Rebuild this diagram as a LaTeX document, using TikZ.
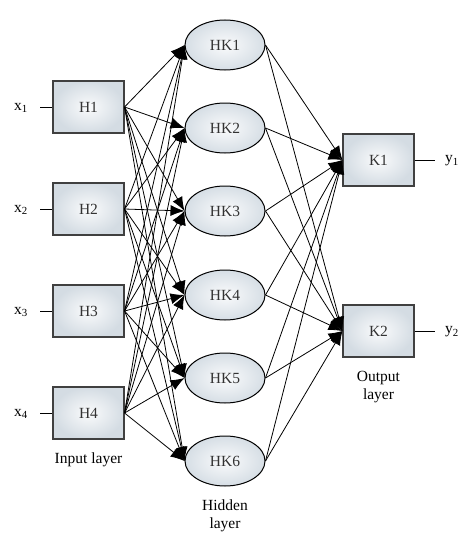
\documentclass[tikz,border=0pt]{standalone}
\usepackage{fontspec}
\setmainfont{Liberation Serif}
\usetikzlibrary{shapes.geometric,arrows.meta}
\begin{document}
\begin{tikzpicture}[x=1pt, y=-1pt, font=\fontsize{15.5}{17.5}\selectfont,
    unitbox/.style={draw=black!75, line width=1.1pt, rectangle, minimum width=71pt, minimum height=52pt, inner sep=0pt,
        text=black!80, shading=radial, inner color={rgb,255:red,250;green,251;blue,252}, outer color={rgb,255:red,212;green,220;blue,227}},
    hiddenunit/.style={draw=black, line width=1pt, ellipse, minimum width=80pt, minimum height=50pt, inner sep=0pt,
        text=black!80, shading=radial, inner color={rgb,255:red,250;green,251;blue,252}, outer color={rgb,255:red,214;green,222;blue,229}},
    link/.style={line width=0.8pt, -{Latex[length=14pt,width=11pt]}}]
        \path[use as bounding box] (0,0) rectangle (474,551);
        % input layer
        \node[unitbox] (h1) at (88.5,107) {H1};
        \node[unitbox] (h2) at (88.5,209) {H2};
        \node[unitbox] (h3) at (88.5,311) {H3};
        \node[unitbox] (h4) at (88.5,413) {H4};
        \node (x1) at (21,108) {x\textsubscript{1}};
        \node (x2) at (21,210) {x\textsubscript{2}};
        \node (x3) at (21,312) {x\textsubscript{3}};
        \node (x4) at (21,414) {x\textsubscript{4}};
        \coordinate (x1e) at (40,107);
        \coordinate (x2e) at (40,209);
        \coordinate (x3e) at (40,311);
        \coordinate (x4e) at (40,413);
        \draw[line width=0.8pt] (x1e) -- (h1);
        \draw[line width=0.8pt] (x2e) -- (h2);
        \draw[line width=0.8pt] (x3e) -- (h3);
        \draw[line width=0.8pt] (x4e) -- (h4);
        \node (inlabel) at (88.5,460) {Input layer};
        % hidden layer
        \node[hiddenunit] (hk1) at (225,45) {HK1};
        \node[hiddenunit] (hk2) at (225,128) {HK2};
        \node[hiddenunit] (hk3) at (225,211) {HK3};
        \node[hiddenunit] (hk4) at (225,295) {HK4};
        \node[hiddenunit] (hk5) at (225,378) {HK5};
        \node[hiddenunit] (hk6) at (225,461) {HK6};
        \node[align=center] (hidlabel) at (225,516) {Hidden\\layer};
        % output layer
        \node[unitbox] (k1) at (378.5,160) {K1};
        \node[unitbox] (k2) at (378.5,331) {K2};
        \coordinate (y1s) at (435,160);
        \coordinate (y2s) at (435,331);
        \draw[line width=0.8pt] (k1) -- (y1s);
        \draw[line width=0.8pt] (k2) -- (y2s);
        \node (y1) at (452,161) {y\textsubscript{1}};
        \node (y2) at (452,332) {y\textsubscript{2}};
        \node[align=center] (outlabel) at (378.5,387) {Output\\layer};
        % input -> hidden
        \draw[link] (h1.east) -- (hk1.west);
        \draw[link] (h1.east) -- (hk2.west);
        \draw[link] (h1.east) -- (hk3.west);
        \draw[link] (h1.east) -- (hk4.west);
        \draw[link] (h1.east) -- (hk5.west);
        \draw[link] (h1.east) -- (hk6.west);
        \draw[link] (h2.east) -- (hk1.west);
        \draw[link] (h2.east) -- (hk2.west);
        \draw[link] (h2.east) -- (hk3.west);
        \draw[link] (h2.east) -- (hk4.west);
        \draw[link] (h2.east) -- (hk5.west);
        \draw[link] (h2.east) -- (hk6.west);
        \draw[link] (h3.east) -- (hk1.west);
        \draw[link] (h3.east) -- (hk2.west);
        \draw[link] (h3.east) -- (hk3.west);
        \draw[link] (h3.east) -- (hk4.west);
        \draw[link] (h3.east) -- (hk5.west);
        \draw[link] (h3.east) -- (hk6.west);
        \draw[link] (h4.east) -- (hk1.west);
        \draw[link] (h4.east) -- (hk2.west);
        \draw[link] (h4.east) -- (hk3.west);
        \draw[link] (h4.east) -- (hk4.west);
        \draw[link] (h4.east) -- (hk5.west);
        \draw[link] (h4.east) -- (hk6.west);
        % hidden -> output
        \draw[link] (hk1.east) -- (k1.west);
        \draw[link] (hk2.east) -- (k1.west);
        \draw[link] (hk3.east) -- (k1.west);
        \draw[link] (hk4.east) -- (k1.west);
        \draw[link] (hk5.east) -- (k1.west);
        \draw[link] (hk6.east) -- (k1.west);
        \draw[link] (hk1.east) -- (k2.west);
        \draw[link] (hk2.east) -- (k2.west);
        \draw[link] (hk3.east) -- (k2.west);
        \draw[link] (hk4.east) -- (k2.west);
        \draw[link] (hk5.east) -- (k2.west);
        \draw[link] (hk6.east) -- (k2.west);
\end{tikzpicture}
\end{document}
